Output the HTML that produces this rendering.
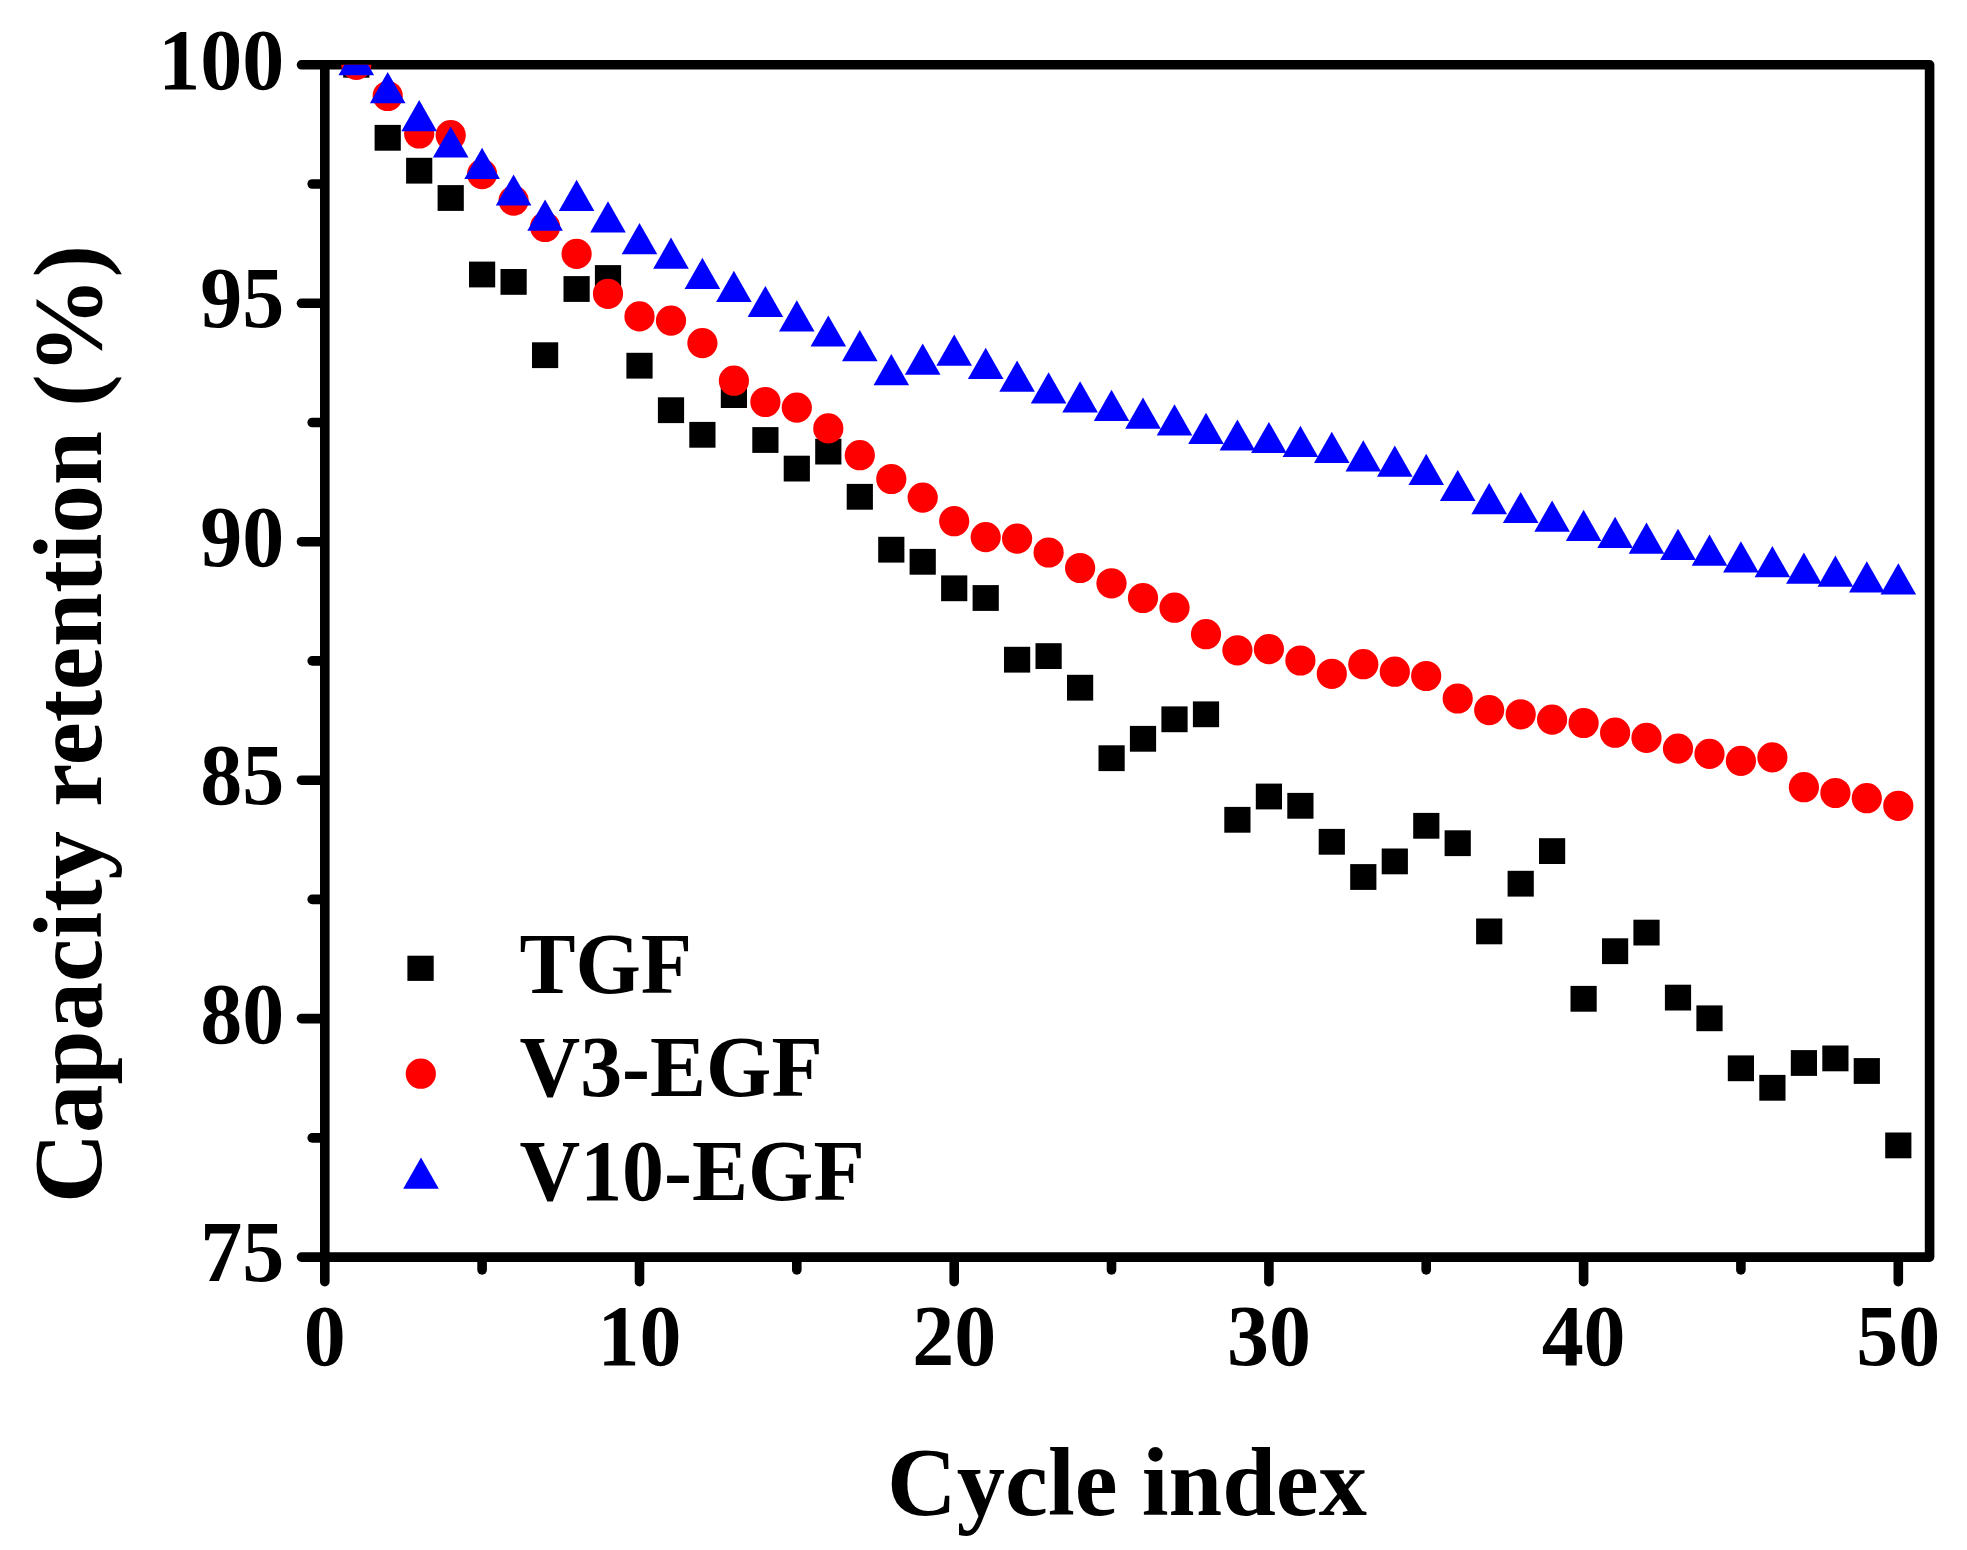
<!DOCTYPE html>
<html lang="en"><head><meta charset="utf-8"><title>Capacity retention vs cycle index</title>
<style>html,body{margin:0;padding:0;background:#fff}body{width:1967px;height:1550px;overflow:hidden}svg{display:block}text{font-family:"Liberation Serif",serif;font-weight:bold;fill:#000}.tk{font-size:87px}.tt{font-size:96.5px}.lg{font-size:87.3px}</style></head><body>
<svg width="1967" height="1550" viewBox="0 0 1967 1550">
<rect width="1967" height="1550" fill="#fff"/>
<g stroke="#000" stroke-width="9.6" stroke-linecap="round" stroke-linejoin="round" fill="none">
<path d="M301.5 64.8H1929.6V1257.1H301.5"/>
<path d="M324.8 66.8V1281.7"/>
<path d="M301.5 303.3H322.8"/>
<path d="M301.5 541.7H322.8"/>
<path d="M301.5 780.2H322.8"/>
<path d="M301.5 1018.6H322.8"/>
<path d="M312.2 184.0H322.8"/>
<path d="M312.2 422.5H322.8"/>
<path d="M312.2 660.9H322.8"/>
<path d="M312.2 899.4H322.8"/>
<path d="M312.2 1137.9H322.8"/>
<path d="M639.5 1259.1V1281.7"/>
<path d="M954.2 1259.1V1281.7"/>
<path d="M1268.9 1259.1V1281.7"/>
<path d="M1583.6 1259.1V1281.7"/>
<path d="M1898.3 1259.1V1281.7"/>
<path d="M482.1 1259.1V1269.9"/>
<path d="M796.8 1259.1V1269.9"/>
<path d="M1111.5 1259.1V1269.9"/>
<path d="M1426.2 1259.1V1269.9"/>
<path d="M1740.9 1259.1V1269.9"/>
</g>
<defs><clipPath id="c"><rect x="324.8" y="64.8" width="1604.8" height="1192.3"/></clipPath></defs>
<g clip-path="url(#c)">
<g fill="#000">
<rect x="343.2" y="51.9" width="26.2" height="25.8"/>
<rect x="374.6" y="124.9" width="26.2" height="25.8"/>
<rect x="406.1" y="157.8" width="26.2" height="25.8"/>
<rect x="437.6" y="185.1" width="26.2" height="25.8"/>
<rect x="469.0" y="261.6" width="26.2" height="25.8"/>
<rect x="500.5" y="269.0" width="26.2" height="25.8"/>
<rect x="532.0" y="342.3" width="26.2" height="25.8"/>
<rect x="563.5" y="276.1" width="26.2" height="25.8"/>
<rect x="594.9" y="265.1" width="26.2" height="25.8"/>
<rect x="626.4" y="352.8" width="26.2" height="25.8"/>
<rect x="657.9" y="397.3" width="26.2" height="25.8"/>
<rect x="689.3" y="421.9" width="26.2" height="25.8"/>
<rect x="720.8" y="382.2" width="26.2" height="25.8"/>
<rect x="752.3" y="427.1" width="26.2" height="25.8"/>
<rect x="783.7" y="455.7" width="26.2" height="25.8"/>
<rect x="815.2" y="438.7" width="26.2" height="25.8"/>
<rect x="846.7" y="483.9" width="26.2" height="25.8"/>
<rect x="878.2" y="536.8" width="26.2" height="25.8"/>
<rect x="909.6" y="548.9" width="26.2" height="25.8"/>
<rect x="941.1" y="575.4" width="26.2" height="25.8"/>
<rect x="972.6" y="585.1" width="26.2" height="25.8"/>
<rect x="1004.0" y="646.8" width="26.2" height="25.8"/>
<rect x="1035.5" y="643.2" width="26.2" height="25.8"/>
<rect x="1067.0" y="674.8" width="26.2" height="25.8"/>
<rect x="1098.5" y="745.3" width="26.2" height="25.8"/>
<rect x="1129.9" y="725.9" width="26.2" height="25.8"/>
<rect x="1161.4" y="706.4" width="26.2" height="25.8"/>
<rect x="1192.9" y="701.4" width="26.2" height="25.8"/>
<rect x="1224.3" y="806.9" width="26.2" height="25.8"/>
<rect x="1255.8" y="783.6" width="26.2" height="25.8"/>
<rect x="1287.3" y="792.9" width="26.2" height="25.8"/>
<rect x="1318.7" y="828.9" width="26.2" height="25.8"/>
<rect x="1350.2" y="864.1" width="26.2" height="25.8"/>
<rect x="1381.7" y="848.5" width="26.2" height="25.8"/>
<rect x="1413.2" y="812.9" width="26.2" height="25.8"/>
<rect x="1444.6" y="830.3" width="26.2" height="25.8"/>
<rect x="1476.1" y="918.5" width="26.2" height="25.8"/>
<rect x="1507.6" y="870.8" width="26.2" height="25.8"/>
<rect x="1539.0" y="838.2" width="26.2" height="25.8"/>
<rect x="1570.5" y="985.9" width="26.2" height="25.8"/>
<rect x="1602.0" y="938.3" width="26.2" height="25.8"/>
<rect x="1633.4" y="919.7" width="26.2" height="25.8"/>
<rect x="1664.9" y="984.7" width="26.2" height="25.8"/>
<rect x="1696.4" y="1005.4" width="26.2" height="25.8"/>
<rect x="1727.8" y="1055.4" width="26.2" height="25.8"/>
<rect x="1759.3" y="1074.9" width="26.2" height="25.8"/>
<rect x="1790.8" y="1050.1" width="26.2" height="25.8"/>
<rect x="1822.3" y="1045.5" width="26.2" height="25.8"/>
<rect x="1853.7" y="1058.1" width="26.2" height="25.8"/>
<rect x="1885.2" y="1132.5" width="26.2" height="25.8"/>
</g><g fill="#f00">
<circle cx="356.3" cy="64.8" r="15.1"/>
<circle cx="387.7" cy="96.0" r="15.1"/>
<circle cx="419.2" cy="133.5" r="15.1"/>
<circle cx="450.7" cy="135.2" r="15.1"/>
<circle cx="482.1" cy="174.1" r="15.1"/>
<circle cx="513.6" cy="200.6" r="15.1"/>
<circle cx="545.1" cy="227.0" r="15.1"/>
<circle cx="576.6" cy="253.9" r="15.1"/>
<circle cx="608.0" cy="293.8" r="15.1"/>
<circle cx="639.5" cy="316.4" r="15.1"/>
<circle cx="671.0" cy="320.6" r="15.1"/>
<circle cx="702.4" cy="343.1" r="15.1"/>
<circle cx="733.9" cy="380.7" r="15.1"/>
<circle cx="765.4" cy="402.0" r="15.1"/>
<circle cx="796.8" cy="407.6" r="15.1"/>
<circle cx="828.3" cy="428.4" r="15.1"/>
<circle cx="859.8" cy="455.2" r="15.1"/>
<circle cx="891.3" cy="479.0" r="15.1"/>
<circle cx="922.7" cy="497.6" r="15.1"/>
<circle cx="954.2" cy="521.2" r="15.1"/>
<circle cx="985.7" cy="537.1" r="15.1"/>
<circle cx="1017.1" cy="538.6" r="15.1"/>
<circle cx="1048.6" cy="552.5" r="15.1"/>
<circle cx="1080.1" cy="568.0" r="15.1"/>
<circle cx="1111.5" cy="583.3" r="15.1"/>
<circle cx="1143.0" cy="598.0" r="15.1"/>
<circle cx="1174.5" cy="607.7" r="15.1"/>
<circle cx="1206.0" cy="634.2" r="15.1"/>
<circle cx="1237.4" cy="650.3" r="15.1"/>
<circle cx="1268.9" cy="649.1" r="15.1"/>
<circle cx="1300.4" cy="660.5" r="15.1"/>
<circle cx="1331.8" cy="673.8" r="15.1"/>
<circle cx="1363.3" cy="664.2" r="15.1"/>
<circle cx="1394.8" cy="671.7" r="15.1"/>
<circle cx="1426.2" cy="676.0" r="15.1"/>
<circle cx="1457.7" cy="698.5" r="15.1"/>
<circle cx="1489.2" cy="710.1" r="15.1"/>
<circle cx="1520.7" cy="714.3" r="15.1"/>
<circle cx="1552.1" cy="719.6" r="15.1"/>
<circle cx="1583.6" cy="723.0" r="15.1"/>
<circle cx="1615.1" cy="732.7" r="15.1"/>
<circle cx="1646.5" cy="737.9" r="15.1"/>
<circle cx="1678.0" cy="748.6" r="15.1"/>
<circle cx="1709.5" cy="753.9" r="15.1"/>
<circle cx="1740.9" cy="760.9" r="15.1"/>
<circle cx="1772.4" cy="757.4" r="15.1"/>
<circle cx="1803.9" cy="787.2" r="15.1"/>
<circle cx="1835.4" cy="793.0" r="15.1"/>
<circle cx="1866.8" cy="798.2" r="15.1"/>
<circle cx="1898.3" cy="805.8" r="15.1"/>
</g><g fill="#00f">
<path d="M356.3 44.0L374.1 75.2H338.5Z"/>
<path d="M387.7 72.1L405.5 103.3H369.9Z"/>
<path d="M419.2 100.0L437.0 131.2H401.4Z"/>
<path d="M450.7 126.4L468.5 157.6H432.9Z"/>
<path d="M482.1 147.8L499.9 179.0H464.3Z"/>
<path d="M513.6 174.4L531.4 205.6H495.8Z"/>
<path d="M545.1 199.6L562.9 230.8H527.3Z"/>
<path d="M576.6 179.7L594.4 210.9H558.8Z"/>
<path d="M608.0 201.2L625.8 232.4H590.2Z"/>
<path d="M639.5 223.0L657.3 254.2H621.7Z"/>
<path d="M671.0 237.6L688.8 268.8H653.2Z"/>
<path d="M702.4 257.8L720.2 289.0H684.6Z"/>
<path d="M733.9 270.7L751.7 301.9H716.1Z"/>
<path d="M765.4 285.9L783.2 317.1H747.6Z"/>
<path d="M796.8 300.2L814.6 331.4H779.0Z"/>
<path d="M828.3 315.4L846.1 346.6H810.5Z"/>
<path d="M859.8 330.0L877.6 361.2H842.0Z"/>
<path d="M891.3 354.0L909.1 385.2H873.5Z"/>
<path d="M922.7 343.6L940.5 374.8H904.9Z"/>
<path d="M954.2 334.5L972.0 365.7H936.4Z"/>
<path d="M985.7 347.8L1003.5 379.0H967.9Z"/>
<path d="M1017.1 360.5L1034.9 391.7H999.3Z"/>
<path d="M1048.6 372.2L1066.4 403.4H1030.8Z"/>
<path d="M1080.1 381.2L1097.9 412.4H1062.3Z"/>
<path d="M1111.5 389.7L1129.3 420.9H1093.8Z"/>
<path d="M1143.0 397.6L1160.8 428.8H1125.2Z"/>
<path d="M1174.5 404.2L1192.3 435.4H1156.7Z"/>
<path d="M1206.0 412.7L1223.8 443.9H1188.2Z"/>
<path d="M1237.4 419.4L1255.2 450.6H1219.6Z"/>
<path d="M1268.9 421.9L1286.7 453.1H1251.1Z"/>
<path d="M1300.4 425.7L1318.2 456.9H1282.6Z"/>
<path d="M1331.8 431.8L1349.6 463.0H1314.0Z"/>
<path d="M1363.3 440.2L1381.1 471.4H1345.5Z"/>
<path d="M1394.8 445.6L1412.6 476.8H1377.0Z"/>
<path d="M1426.2 453.7L1444.0 484.9H1408.5Z"/>
<path d="M1457.7 469.9L1475.5 501.1H1439.9Z"/>
<path d="M1489.2 483.0L1507.0 514.2H1471.4Z"/>
<path d="M1520.7 491.9L1538.5 523.1H1502.9Z"/>
<path d="M1552.1 500.5L1569.9 531.7H1534.3Z"/>
<path d="M1583.6 509.7L1601.4 540.9H1565.8Z"/>
<path d="M1615.1 516.7L1632.9 547.9H1597.3Z"/>
<path d="M1646.5 522.5L1664.3 553.7H1628.7Z"/>
<path d="M1678.0 528.8L1695.8 560.0H1660.2Z"/>
<path d="M1709.5 534.5L1727.3 565.7H1691.7Z"/>
<path d="M1740.9 541.2L1758.7 572.4H1723.1Z"/>
<path d="M1772.4 546.1L1790.2 577.3H1754.6Z"/>
<path d="M1803.9 552.6L1821.7 583.8H1786.1Z"/>
<path d="M1835.4 555.5L1853.2 586.7H1817.6Z"/>
<path d="M1866.8 561.2L1884.6 592.4H1849.0Z"/>
<path d="M1898.3 563.3L1916.1 594.5H1880.5Z"/>
</g></g>
<rect x="407.4" y="955.7" width="26.3" height="25.2" fill="#000"/>
<circle cx="420.8" cy="1073.7" r="15.1" fill="#f00"/>
<path d="M421.0 1157.5L438.8 1188.7H403.2Z" fill="#00f"/>
<text class="lg" id="l1" transform="translate(519.5 992.5) scale(0.962 1)">TGF</text>
<text class="lg" id="l2" transform="translate(519.5 1096.2) scale(0.962 1)">V3-EGF</text>
<text class="lg" id="l3" transform="translate(519.5 1200.0) scale(0.962 1)">V10-EGF</text>
<text class="tk" id="y0" text-anchor="end" transform="translate(284.2 88.7) scale(0.965 1)">100</text>
<text class="tk" id="y1" text-anchor="end" transform="translate(284.2 327.2) scale(0.965 1)">95</text>
<text class="tk" id="y2" text-anchor="end" transform="translate(284.2 565.6) scale(0.965 1)">90</text>
<text class="tk" id="y3" text-anchor="end" transform="translate(284.2 804.1) scale(0.965 1)">85</text>
<text class="tk" id="y4" text-anchor="end" transform="translate(284.2 1042.5) scale(0.965 1)">80</text>
<text class="tk" id="y5" text-anchor="end" transform="translate(284.2 1281.0) scale(0.965 1)">75</text>
<text class="tk" id="x0" text-anchor="middle" transform="translate(324.8 1364.9) scale(0.965 1)">0</text>
<text class="tk" id="x1" text-anchor="middle" transform="translate(639.5 1364.9) scale(0.965 1)">10</text>
<text class="tk" id="x2" text-anchor="middle" transform="translate(954.2 1364.9) scale(0.965 1)">20</text>
<text class="tk" id="x3" text-anchor="middle" transform="translate(1268.9 1364.9) scale(0.965 1)">30</text>
<text class="tk" id="x4" text-anchor="middle" transform="translate(1583.6 1364.9) scale(0.965 1)">40</text>
<text class="tk" id="x5" text-anchor="middle" transform="translate(1898.3 1364.9) scale(0.965 1)">50</text>
<text class="tt" id="xt" text-anchor="middle" x="1127" y="1515.3">Cycle index</text>
<text class="tt" id="yt" style="font-size:97.1px" text-anchor="middle" transform="translate(100.7 724) rotate(-90)">Capacity retention (%)</text>
</svg></body></html>
